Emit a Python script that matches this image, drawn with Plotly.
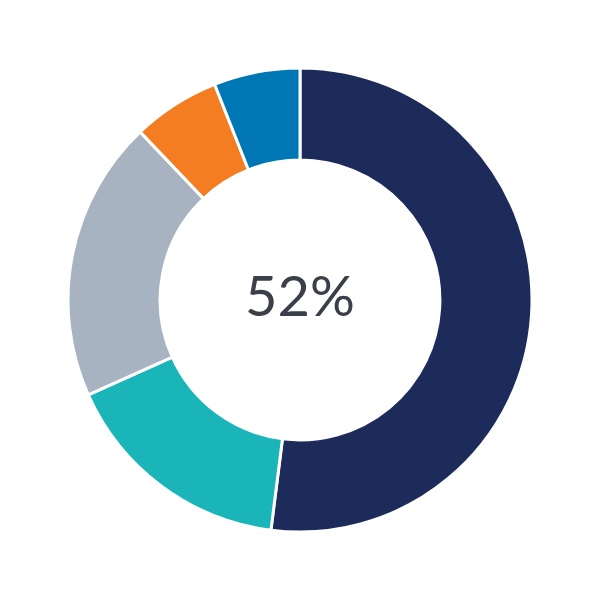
import plotly.graph_objects as go

labels = ["Navy", "Teal", "Gray", "Orange", "Blue"]
values = [52, 16.3, 19.6, 6.1, 6.0]
colors = ["#1c2b5a", "#1ab5b8", "#a8b3c1", "#f47d21", "#0077b5"]
center_text = "52%"

# page body has an 8px default margin; offset the domain to compensate
fig = go.Figure(go.Pie(
    labels=labels, values=values, hole=0.603, sort=False, direction="clockwise",
    rotation=0, textinfo="none", hoverinfo="label+percent",
    marker=dict(colors=colors, line=dict(color="white", width=3)),
    domain=dict(x=[60/600, 524/600], y=[76/600, 540/600]),
))
fig.add_annotation(text=center_text, x=292/600, y=314/600, xref="paper", yref="paper",
                   showarrow=False, font=dict(family="Lato", size=56, color="#3a3f4a"))
fig.update_layout(width=600, height=600, margin=dict(l=0, r=0, t=0, b=0),
                  showlegend=False, paper_bgcolor="white", plot_bgcolor="white")
fig.write_html("out.html")
